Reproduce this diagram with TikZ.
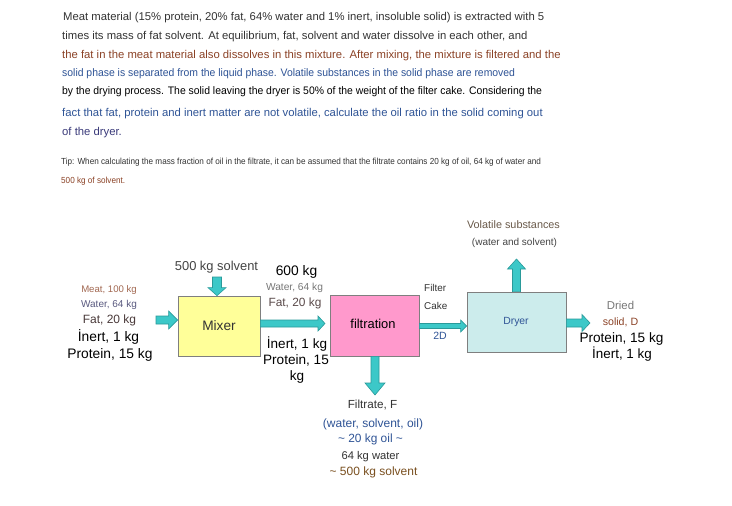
\documentclass[tikz,border=0pt]{standalone}
\usepackage{fontspec}
\setmainfont{Liberation Sans}
\usetikzlibrary{calc}
\definecolor{tdark}{HTML}{333333}
\definecolor{tbrown}{HTML}{8B4226}
\definecolor{tblue}{HTML}{2F5496}
\definecolor{tpurple}{HTML}{3A3A7A}
\definecolor{tgray}{HTML}{777777}
\definecolor{arfill}{HTML}{3CC8C8}
\definecolor{ardraw}{HTML}{2A9A9A}
\definecolor{mixfill}{HTML}{FFFF99}
\definecolor{filfill}{HTML}{FF99CC}
\definecolor{dryfill}{HTML}{CCECEC}
\definecolor{boxdraw}{HTML}{7F7F7F}
\newcommand\blockarr[5]{%
  \coordinate (ba-h) at ($(#2)!#5!(#1)$);
  \filldraw[fill=arfill,draw=ardraw,line width=0.6pt,line join=miter]
    ($(#1)!#3!90:(#2)$) -- ($(ba-h)!#3!-90:(#1)$) -- ($(ba-h)!#4!-90:(#1)$) -- (#2)
    -- ($(ba-h)!#4!90:(#1)$) -- ($(ba-h)!#3!90:(#1)$) -- ($(#1)!#3!-90:(#2)$) -- cycle;}
\newcommand\fs[1]{\fontsize{#1}{#1}\selectfont}
\begin{document}
\begin{tikzpicture}[x=1pt,y=-1pt,
  para/.style={anchor=west,inner sep=0pt,font=\fs{11.3},text height=8pt,text depth=2pt},
  tip/.style={anchor=west,inner sep=0pt,font=\fs{8.8},text height=6.5pt,text depth=2pt},
  lbl/.style={inner sep=0pt,text height=0.72em,text depth=0.2em},
  procbox/.style={draw=boxdraw,line width=0.7pt,inner sep=0pt}]
\useasboundingbox (0,0) rectangle (732,506);
\fill[white] (0,0) rectangle (732,506);
% paragraph
\node[para,text=tdark] (p1) at (63,17) {Meat material (15\% protein, 20\% fat, 64\% water and 1\% inert, insoluble solid) is extracted with 5};
\node[para,text=tdark] (p2) at (62,36) {times its mass of fat solvent. At equilibrium, fat, solvent and water dissolve in each other, and};
\node[para,text=tbrown] (p3) at (62,55) {the fat in the meat material also dissolves in this mixture. After mixing, the mixture is filtered and the};
\node[para,text=tblue,font=\fs{10.9}] (p4) at (62,73) {\scalebox{0.955}[1]{solid phase is separated from the liquid phase. Volatile substances in the solid phase are removed}};
\node[para,text=black,font=\fs{10.9}] (p5) at (62,91) {\scalebox{0.955}[1]{by the drying process. The solid leaving the dryer is 50\% of the weight of the filter cake. Considering the}};
\node[para,text=tblue] (p6) at (62,113) {fact that fat, protein and inert matter are not volatile, calculate the oil ratio in the solid coming out};
\node[para,text=tpurple] (p7) at (62,132) {of the dryer.};
% tip
\node[tip,text=tdark] (t1) at (61,162) {\scalebox{0.927}[1]{Tip: When calculating the mass fraction of oil in the filtrate, it can be assumed that the filtrate contains 20 kg of oil, 64 kg of water and}};
\node[tip,text=tbrown] (t2) at (61,181) {\scalebox{0.927}[1]{500 kg of solvent.}};
% boxes
\node[procbox,fill=mixfill,minimum width=82pt,minimum height=60pt] (mixer) at (219,326) {};
\node[lbl,text=tdark,font=\fs{13.7}] (mixlbl) at (219,328) {Mixer};
\node[procbox,fill=filfill,minimum width=89pt,minimum height=61pt] (filt) at (374.5,325.5) {};
\node[lbl,text=black,font=\fs{12.9}] (fillbl) at (373,326) {filtration};
\node[procbox,fill=dryfill,minimum width=99pt,minimum height=60pt] (dryer) at (516.5,322) {};
\node[lbl,text=tblue,font=\fs{10.4}] (drylbl) at (516,322) {Dryer};
% arrow coordinates
\coordinate (inA) at (156,320);
\coordinate (inB) at (mixer.west |- inA);
\coordinate (solA) at (217,277);
\coordinate (solB) at (solA |- mixer.north);
\coordinate (mfA) at (mixer.east |- 0,323.5);
\coordinate (mfB) at (325,323.5);
\coordinate (fdA) at (filt.south -| 375,0);
\coordinate (fdB) at (375,395);
\coordinate (fcA) at (filt.east |- 0,326);
\coordinate (fcB) at (dryer.west |- fcA);
\coordinate (duA) at (dryer.north);
\coordinate (duB) at (516.5,259);
\coordinate (drA) at (dryer.east |- 0,323);
\coordinate (drB) at (590,323);
\blockarr{inA}{inB}{4pt}{9pt}{9pt}
\blockarr{solA}{solB}{4.5pt}{9pt}{8pt}
\blockarr{mfA}{mfB}{3.5pt}{7.5pt}{7pt}
\blockarr{fdA}{fdB}{4pt}{10pt}{12pt}
\blockarr{fcA}{fcB}{2.5pt}{6pt}{6pt}
\blockarr{duA}{duB}{4pt}{9pt}{10pt}
\blockarr{drA}{drB}{4pt}{8.5pt}{8pt}
% left labels
\node[lbl,text=tbrown!80,font=\fs{9.6}] (meat) at (109,290) {Meat, 100 kg};
\node[lbl,text={rgb,255:red,90;green,90;blue,128},font=\fs{10}] (lwater) at (109,305) {Water, 64 kg};
\node[lbl,text={rgb,255:red,74;green,58;blue,58},font=\fs{12}] (lfat) at (109.5,321) {Fat, 20 kg};
\node[lbl,text=black,font=\fs{13.8}] (linert) at (108.5,339) {İnert, 1 kg};
\node[lbl,text=black,font=\fs{13.8}] (lprot) at (110,356) {Protein, 15 kg};
% solvent and 600
\node[lbl,text={rgb,255:red,68;green,68;blue,68},font=\fs{12.9}] (solv) at (216.5,268) {500 kg solvent};
\node[lbl,text=black,font=\fs{13.8}] (six) at (296.5,273) {600 kg};
\node[lbl,text=tgray,font=\fs{10.2}] (mwater) at (294.5,288) {Water, 64 kg};
\node[lbl,text={rgb,255:red,90;green,74;blue,74},font=\fs{11.9}] (mfat) at (295,304) {Fat, 20 kg};
\node[lbl,text=black,font=\fs{13.5}] (minert) at (297,346) {İnert, 1 kg};
\node[lbl,text=black,font=\fs{13.6}] (mprot) at (296,362) {Protein, 15};
\node[lbl,text=black,font=\fs{13.6}] (mkg) at (297,378) {kg};
% filter cake
\node[lbl,anchor=west,text=tdark,font=\fs{9.9}] (filter) at (424,289) {Filter};
\node[lbl,anchor=west,text=tdark,font=\fs{9.9}] (cake) at (424,307) {Cake};
\node[lbl,text=tblue,font=\fs{10.5}] (twod) at (440,337) {2D};
% volatile
\node[lbl,text={rgb,255:red,106;green,90;blue,74},font=\fs{10.85}] (vol) at (513.5,226) {Volatile substances};
\node[lbl,text={rgb,255:red,68;green,68;blue,68},font=\fs{10}] (volw) at (514.5,243) {(water and solvent)};
% dried
\node[lbl,text=tgray,font=\fs{11.4}] (dried) at (620.5,307) {Dried};
\node[lbl,text=tbrown,font=\fs{10.6}] (dsolid) at (620.5,323) {solid, D};
\node[lbl,text=black,font=\fs{13.6}] (dprot) at (621.5,340) {Protein, 15 kg};
\node[lbl,text=black,font=\fs{13.4}] (dinert) at (622,356) {İnert, 1 kg};
% filtrate
\node[lbl,text=tdark,font=\fs{11.7}] (filtrate) at (372.5,406) {Filtrate, F};
\node[lbl,text=tblue,font=\fs{12}] (fws) at (373,425) {(water, solvent, oil)};
\node[lbl,text=tblue,font=\fs{11.9}] (foil) at (370.5,440) {\textasciitilde{} 20 kg oil \textasciitilde};
\node[lbl,text=tdark,font=\fs{11.2}] (fwat) at (370.5,457) {64 kg water};
\node[lbl,text={rgb,255:red,122;green,80;blue,32},font=\fs{12}] (fsol) at (373.5,473) {\textasciitilde{} 500 kg solvent};
\end{tikzpicture}
\end{document}
